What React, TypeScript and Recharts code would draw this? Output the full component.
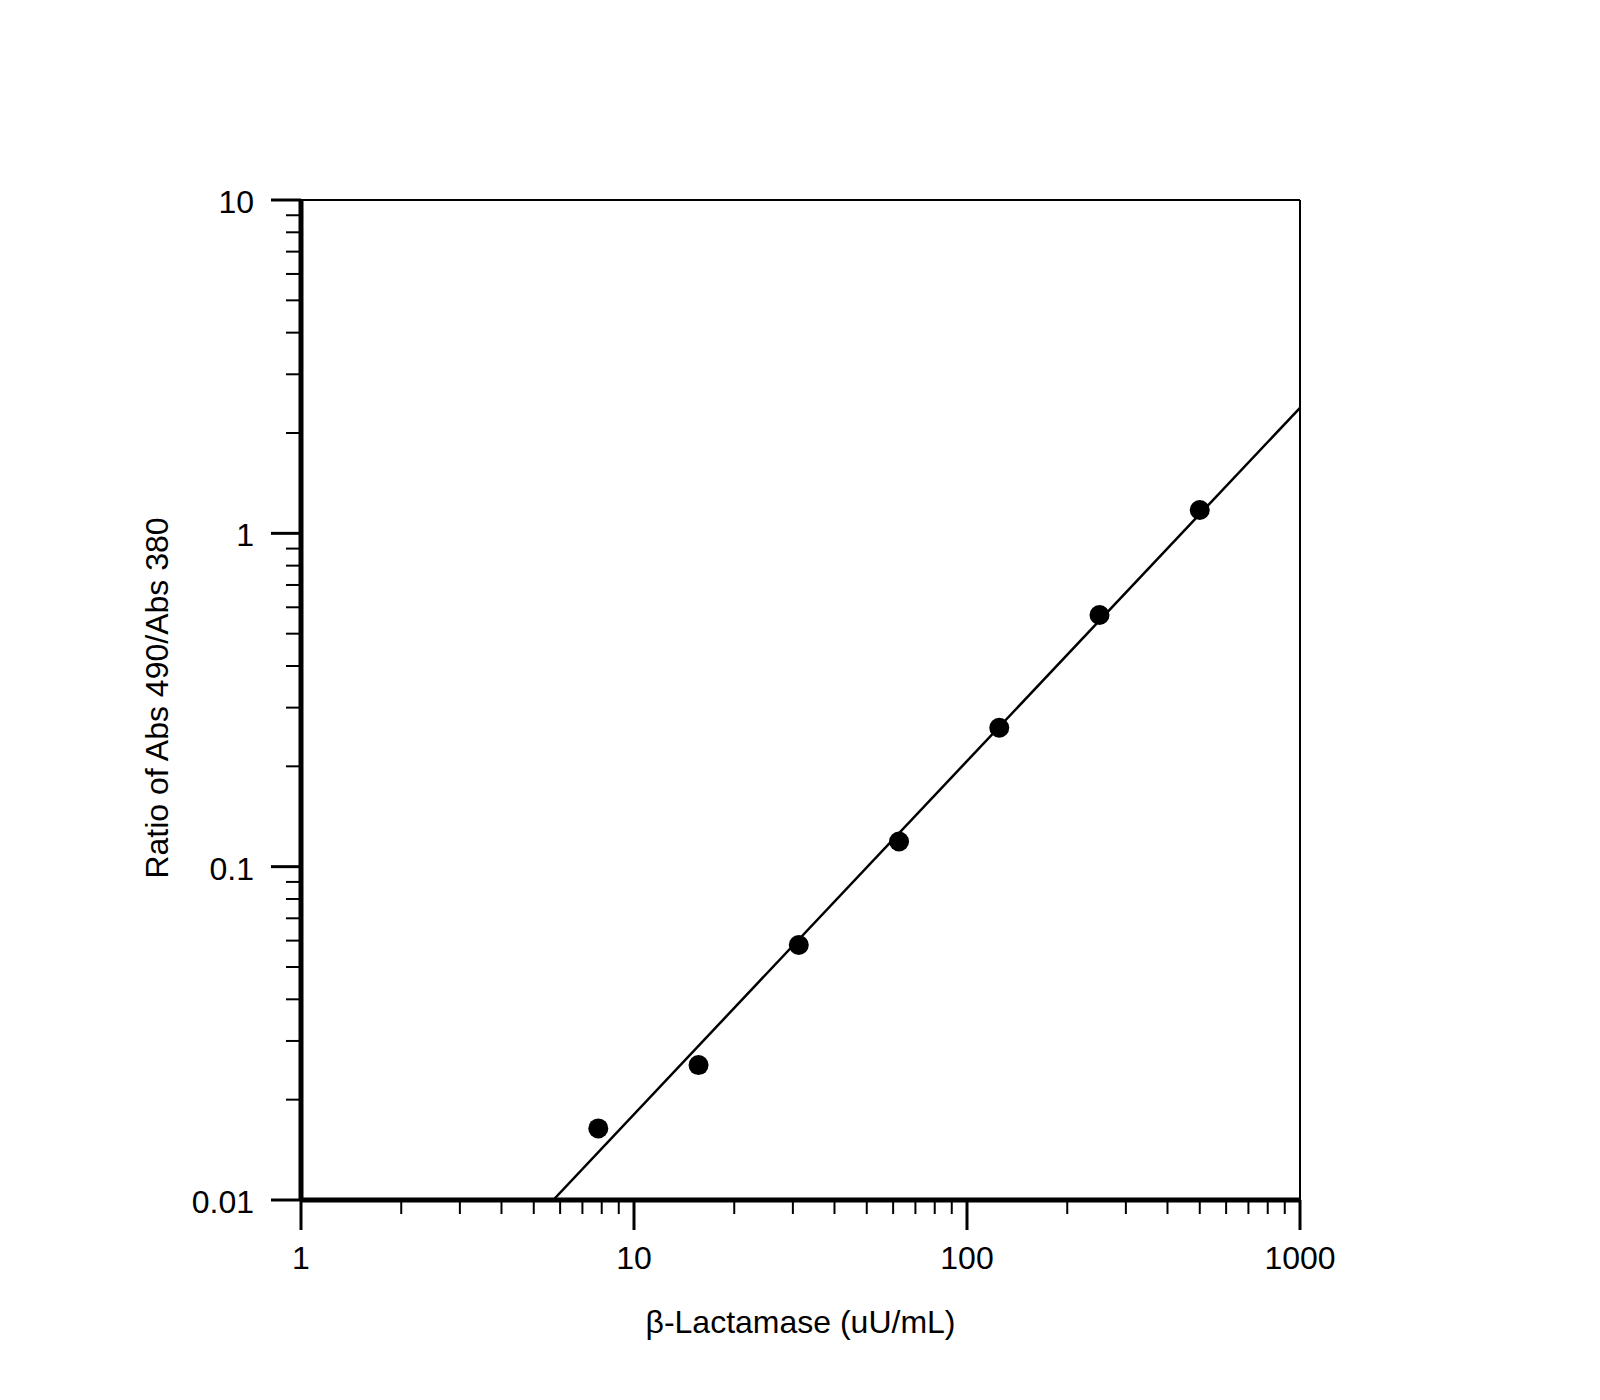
import { ReferenceLine, Scatter, ScatterChart, XAxis, YAxis } from 'recharts'

// standard curve: beta-lactamase (uU/mL) vs ratio Abs490/Abs380
const concentrations = [7.8125, 15.625, 31.25, 62.5, 125, 250, 500]
const ratios = [0.0164, 0.0254, 0.0582, 0.119, 0.261, 0.569, 1.175]

// fitted line, ends
const fitX = [5.72, 1000]
const fitY = [0.01, 2.38]

const xTicks = [1, 2, 3, 4, 5, 6, 7, 8, 9, 10, 20, 30, 40, 50, 60, 70, 80, 90, 100, 200, 300, 400, 500, 600, 700, 800, 900, 1000]
const yTicks = [
  0.01, 0.02, 0.03, 0.04, 0.05, 0.06, 0.07, 0.08, 0.09, 0.1, 0.2, 0.3, 0.4, 0.5, 0.6, 0.7, 0.8, 0.9, 1, 2, 3, 4, 5, 6, 7,
  8, 9, 10,
]

const points = concentrations.map((x, i) => ({ x, y: ratios[i] }))
const fitLine = fitX.map((x, i) => ({ x, y: fitY[i] }))

const FONT = '"Liberation Sans", Arial, sans-serif'
const FS = 32

const isMajor = (v: number) => {
  const l = Math.log10(v)
  return Math.abs(l - Math.round(l)) < 1e-6
}

const XTick = ({ x, y, payload }: any) => {
  const major = isMajor(payload.value)
  return (
    <g>
      <line x1={x} x2={x} y1={y} y2={y + (major ? 30 : 14)} stroke="#000" strokeWidth={major ? 3 : 2} />
      {major && (
        <text x={x} y={y + 69} textAnchor="middle" fontSize={FS} fontFamily={FONT} fill="#000">
          {String(payload.value)}
        </text>
      )}
    </g>
  )
}

const YTick = ({ x, y, payload }: any) => {
  const major = isMajor(payload.value)
  return (
    <g>
      <line x1={x} x2={x - (major ? 30 : 15)} y1={y} y2={y} stroke="#000" strokeWidth={major ? 3 : 2} />
      {major && (
        <text x={x - 47} y={y + 13} textAnchor="end" fontSize={FS} fontFamily={FONT} fill="#000">
          {String(payload.value)}
        </text>
      )}
    </g>
  )
}

const YTitle = () => (
  <text
    x={160}
    y={690}
    transform="rotate(-90 160 690)"
    textAnchor="middle"
    fontSize={FS}
    fontFamily={FONT}
    fill="#000"
  >
    Ratio of Abs 490/Abs 380
  </text>
)

const Dot = ({ cx, cy }: any) => <circle cx={cx} cy={cy} r={10} fill="#000" />

export default function App() {
  return (
    <div style={{ width: 1584, height: 1384, background: '#fff' }}>
      <ScatterChart width={1584} height={1384} margin={{ top: 192, right: 292, left: 143, bottom: 42 }}>
        <XAxis
          type="number"
          dataKey="x"
          scale="log"
          domain={[1, 1000]}
          allowDataOverflow
          ticks={xTicks}
          interval={0}
          height={150}
          tickSize={0}
          tickMargin={0}
          tickLine={false}
          tick={<XTick />}
          axisLine={{ stroke: '#000', strokeWidth: 5 }}
          label={{
            value: 'β-Lactamase (uU/mL)',
            position: 'insideBottom',
            offset: 17,
            fontSize: FS,
            fontFamily: FONT,
            fill: '#000',
          }}
        />
        <YAxis
          type="number"
          dataKey="y"
          scale="log"
          domain={[0.01, 10]}
          allowDataOverflow
          ticks={yTicks}
          interval={0}
          width={150}
          tickSize={0}
          tickMargin={0}
          tickLine={false}
          tick={<YTick />}
          axisLine={{ stroke: '#000', strokeWidth: 5 }}
          label={{ content: <YTitle /> }}
        />
        <ReferenceLine y={10} stroke="#000" strokeWidth={2} />
        <ReferenceLine x={1000} stroke="#000" strokeWidth={2} />
        <Scatter
          data={fitLine}
          line={{ stroke: '#000', strokeWidth: 2.5 }}
          shape={() => <g />}
          isAnimationActive={false}
        />
        <Scatter data={points} shape={<Dot />} isAnimationActive={false} />
      </ScatterChart>
    </div>
  )
}
